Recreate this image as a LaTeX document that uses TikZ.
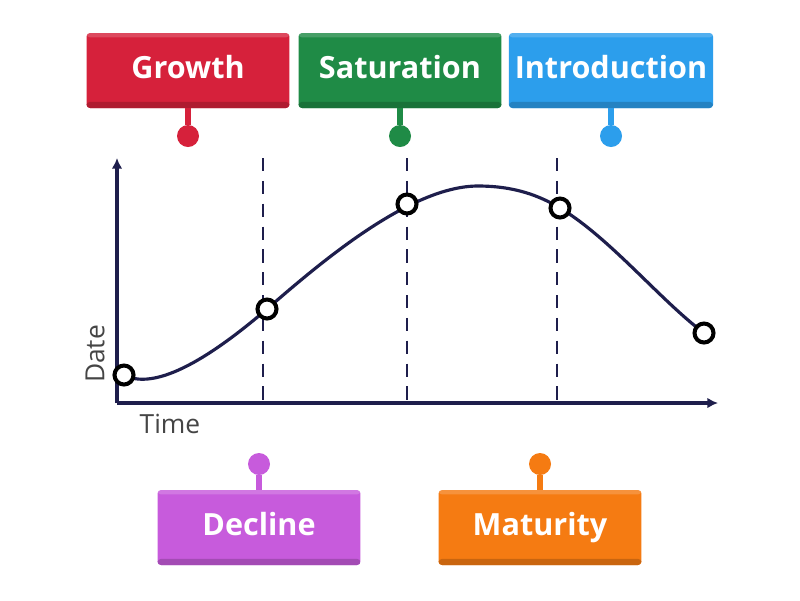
\documentclass[tikz,border=0pt]{standalone}
\usepackage{fontspec}
\setmainfont{Open Sans}
\usepackage{xcolor}
\usetikzlibrary{arrows.meta}

\definecolor{growthred}{HTML}{D6213B}
\definecolor{satgreen}{HTML}{1F8B46}
\definecolor{introblue}{HTML}{2C9EEC}
\definecolor{declinepurple}{HTML}{C75BDC}
\definecolor{maturityorange}{HTML}{F57B12}
\definecolor{axisnavy}{HTML}{1E1E4C}
\definecolor{labelgray}{HTML}{454545}

\begin{document}
\begin{tikzpicture}[x=0.02cm,y=-0.02cm,
    tag/.style={fill=#1,rounded corners=2pt,minimum width=4.06cm,minimum height=1.5cm,
        text=white,font=\fontsize{17.4}{20}\selectfont\bfseries,text height=2.1ex,text depth=0.3ex,
        path picture={
            \fill[#1!82!black] (path picture bounding box.south west) rectangle ([yshift=3.5pt]path picture bounding box.south east);
            \fill[white,opacity=0.18] (path picture bounding box.north west) rectangle ([yshift=-2.5pt]path picture bounding box.north east);
        }},
    knob/.style={circle,fill=#1,minimum size=0.44cm,inner sep=0pt},
    stem/.style={draw=#1,line width=3.2pt},
    mark point/.style={circle,draw=black,fill=white,line width=2.3pt,minimum size=0.38cm,inner sep=0pt},
    guide/.style={axisnavy,line width=1.6pt,dash pattern=on 7.5pt off 5.5pt},
    axis/.style={axisnavy,line width=1.8pt,-{Latex[length=6pt,width=6pt]}},
    axis label/.style={text=labelgray,font=\fontsize{15}{18}\selectfont}]

    \useasboundingbox[fill=white] (0,0) rectangle (800,600);

    % axes
    \coordinate (o) at (117,403);
    \coordinate (ytop) at (117,158);
    \coordinate (xend) at (718,403);
    \draw[axis] (o) -- (ytop);
    \draw[axis] (o) -- (xend);
    \node[axis label] (time) at (170,424) {Time};
    \node[axis label,rotate=90] (date) at (95,354) {Date};

    % phase borders
    \draw[guide] (263,158) -- (263,403);
    \draw[guide] (407,158) -- (407,403);
    \draw[guide] (557,158) -- (557,403);

    % curve
    \coordinate (p1) at (124,375);
    \coordinate (p2) at (267,309);
    \coordinate (peak) at (478,186);
    \coordinate (p4) at (560,208);
    \coordinate (p5) at (704,333);
    \draw[axisnavy,line width=1.8pt] (p1) .. controls (160,394) and (225,345) .. (p2)
        .. controls (320,263) and (410,186) .. (peak)
        .. controls (515,186) and (540,196) .. (p4)
        .. controls (610,238) and (660,300) .. (p5);

    \node[mark point] (m1) at (p1) {};
    \node[mark point] (m2) at (p2) {};
    \node[mark point] (m3) at (407,204) {};
    \node[mark point] (m4) at (p4) {};
    \node[mark point] (m5) at (p5) {};

    % labels on top
    \node[tag=growthred] (growth) at (188,70.5) {Growth};
    \node[tag=satgreen] (saturation) at (400,70.5) {Saturation};
    \node[tag=introblue] (intro) at (611,70.5) {Introduction};

    \node[knob=growthred] (growthdot) at (188,136) {};
    \node[knob=satgreen] (saturationdot) at (400,136) {};
    \node[knob=introblue] (introdot) at (611,136) {};
    \draw[stem=growthred] (growth.south) -- (growthdot);
    \draw[stem=satgreen] (saturation.south) -- (saturationdot);
    \draw[stem=introblue] (intro.south) -- (introdot);

    % labels below
    \node[tag=declinepurple] (decline) at (259,527.5) {Decline};
    \node[tag=maturityorange] (maturity) at (540,527.5) {Maturity};

    \node[knob=declinepurple] (declinedot) at (259,464) {};
    \node[knob=maturityorange] (maturitydot) at (540,464) {};
    \draw[stem=declinepurple] (declinedot) -- (decline.north);
    \draw[stem=maturityorange] (maturitydot) -- (maturity.north);
\end{tikzpicture}
\end{document}
